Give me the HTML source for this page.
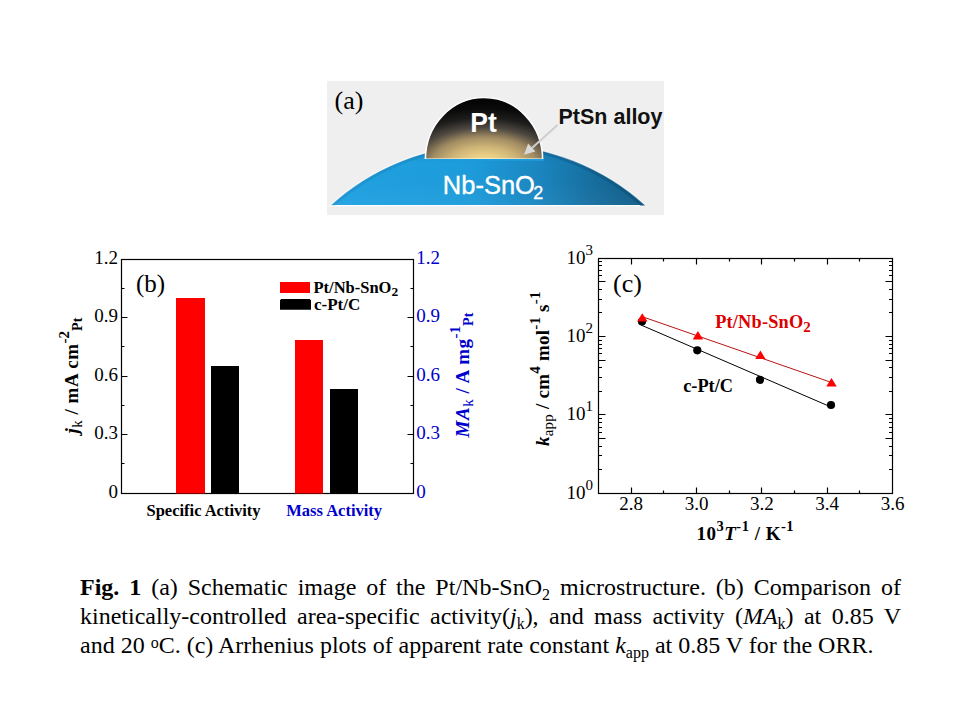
<!DOCTYPE html>
<html><head><meta charset="utf-8"><style>
html,body{margin:0;padding:0;background:#fff;width:960px;height:720px;overflow:hidden;position:relative}
#cap{position:absolute;left:80px;top:573px;width:821px;font-family:"Liberation Serif", serif;font-size:24px;color:#000}
#cap p{margin:0;height:29px;line-height:29px;white-space:nowrap}
#cap p.j{text-align:justify;text-align-last:justify;white-space:normal}
#cap sub,#cap sup{font-size:16px;line-height:0}
#cap sub{vertical-align:-5px}
#cap sup{vertical-align:5.5px}
</style></head><body>
<svg width="960" height="560" viewBox="0 0 960 560" style="position:absolute;left:0;top:0"><defs><radialGradient id="ptg" cx="0" cy="0" r="1" gradientUnits="userSpaceOnUse" gradientTransform="translate(484 166) scale(118 64)"><stop offset="0" stop-color="#f8e49a"/><stop offset="0.15" stop-color="#ecd286"/><stop offset="0.3" stop-color="#cfb577"/><stop offset="0.45" stop-color="#a28c62"/><stop offset="0.6" stop-color="#4e4840"/><stop offset="0.75" stop-color="#1e1d1c"/><stop offset="0.9" stop-color="#0a0a0a"/><stop offset="1" stop-color="#050505"/></radialGradient><linearGradient id="blg" x1="329" y1="0" x2="646" y2="0" gradientUnits="userSpaceOnUse"><stop offset="0" stop-color="#20a2e2"/><stop offset="0.45" stop-color="#1d9cdb"/><stop offset="0.66" stop-color="#1a86c0"/><stop offset="0.85" stop-color="#156c9c"/><stop offset="1" stop-color="#115a85"/></linearGradient><linearGradient id="blv" x1="0" y1="145" x2="0" y2="206" gradientUnits="userSpaceOnUse"><stop offset="0" stop-color="#000" stop-opacity="0.10"/><stop offset="0.3" stop-color="#000" stop-opacity="0"/><stop offset="1" stop-color="#fff" stop-opacity="0.04"/></linearGradient><linearGradient id="rim" x1="329" y1="0" x2="646" y2="0" gradientUnits="userSpaceOnUse"><stop offset="0" stop-color="#0d5f90" stop-opacity="0.15"/><stop offset="0.5" stop-color="#0d5f90" stop-opacity="0.25"/><stop offset="1" stop-color="#0a4f7a" stop-opacity="0.7"/></linearGradient></defs><rect x="327" y="81" width="337" height="134" fill="#efefef"/><path d="M329.7 205.7 A 234.2 234.2 0 0 1 645.6 205.7 Z" fill="url(#blg)" stroke="#fff" stroke-width="1.2"/><path d="M329.7 205.7 A 234.2 234.2 0 0 1 645.6 205.7 Z" fill="url(#blv)"/><clipPath id="domec"><path d="M329.7 205.7 A 234.2 234.2 0 0 1 645.6 205.7 Z"/></clipPath><path d="M329.7 205.7 A 234.2 234.2 0 0 1 645.6 205.7" fill="none" stroke="url(#rim)" stroke-width="7" clip-path="url(#domec)"/><path d="M425.4 159.3 A 58.6 61.8 0 0 1 542.6 159.3 Z" fill="url(#ptg)" stroke="#fcfcfc" stroke-width="1.6"/><rect x="424" y="159" width="120" height="1.8" fill="#1d9cdb"/><line x1="557.5" y1="125" x2="532" y2="148" stroke="#cfcfcf" stroke-width="2"/><path d="M524 154.7 L528.1 143.6 L535.4 151.5 Z" fill="#d8d8d8"/><text x="334.5" y="108.8" font-family='"Liberation Serif", serif' font-size="26">(a)</text><text x="470.3" y="131.8" font-family='"Liberation Sans", sans-serif' font-size="28" font-weight="bold" fill="#fff" textLength="26.5" lengthAdjust="spacingAndGlyphs">Pt</text><text x="558.5" y="124.2" font-family='"Liberation Sans", sans-serif' font-size="21.5" font-weight="bold" fill="#111" stroke="#fff" stroke-width="0" >PtSn alloy</text><text x="442.8" y="194.2" font-family='"Liberation Sans", sans-serif' font-size="25.5" fill="#fff" stroke="#fff" stroke-width="0.35">Nb-SnO<tspan font-size="18" dy="4.8" dx="-1.6">2</tspan></text><rect x="121.5" y="259.5" width="292.0" height="234.0" fill="none" stroke="#000" stroke-width="1.2"/><rect x="176" y="298" width="29" height="195.5" fill="#ff0000"/><rect x="211" y="366" width="28" height="127.5" fill="#000"/><rect x="295" y="340" width="28" height="153.5" fill="#ff0000"/><rect x="330" y="389" width="28" height="104.5" fill="#000"/><path d="M121.5 493.50h6M413.5 493.50h-6M121.5 463.50h3M413.5 463.50h-3M121.5 434.50h6M413.5 434.50h-6M121.5 405.50h3M413.5 405.50h-3M121.5 376.50h6M413.5 376.50h-6M121.5 346.50h3M413.5 346.50h-3M121.5 317.50h6M413.5 317.50h-6M121.5 288.50h3M413.5 288.50h-3M121.5 259.50h6M413.5 259.50h-6" stroke="#000" stroke-width="1.2" fill="none"/><text x="118" y="497.6" text-anchor="end" font-family='"Liberation Serif", serif' font-size="19">0</text><text x="416.2" y="497.6" font-family='"Liberation Serif", serif' font-size="19" fill="#0000cc">0</text><text x="118" y="439.1" text-anchor="end" font-family='"Liberation Serif", serif' font-size="19">0.3</text><text x="416.2" y="439.1" font-family='"Liberation Serif", serif' font-size="19" fill="#0000cc">0.3</text><text x="118" y="380.6" text-anchor="end" font-family='"Liberation Serif", serif' font-size="19">0.6</text><text x="416.2" y="380.6" font-family='"Liberation Serif", serif' font-size="19" fill="#0000cc">0.6</text><text x="118" y="322.1" text-anchor="end" font-family='"Liberation Serif", serif' font-size="19">0.9</text><text x="416.2" y="322.1" font-family='"Liberation Serif", serif' font-size="19" fill="#0000cc">0.9</text><text x="118" y="263.6" text-anchor="end" font-family='"Liberation Serif", serif' font-size="19">1.2</text><text x="416.2" y="263.6" font-family='"Liberation Serif", serif' font-size="19" fill="#0000cc">1.2</text><text x="136" y="292" font-family='"Liberation Serif", serif' font-size="25">(b)</text><rect x="280" y="282" width="30" height="11" fill="#ff0000"/><path d="M280 300.2 L281.2 299 L309.6 299 L311 300.2 L311 309.8 L280 309.8 Z" fill="#000"/><text x="313.5" y="292.8" font-family='"Liberation Serif", serif' font-size="16.5" font-weight="bold">Pt/Nb-SnO<tspan font-size="13.5" dy="3">2</tspan></text><text x="314" y="310" font-family='"Liberation Serif", serif' font-size="17" font-weight="bold">c-Pt/C</text><text x="146.5" y="515.6" font-family='"Liberation Serif", serif' font-size="16.5" font-weight="bold">Specific Activity</text><text x="286.3" y="515.6" font-family='"Liberation Serif", serif' font-size="16.5" font-weight="bold" fill="#0000cc">Mass Activity</text><text transform="translate(78,433.5) rotate(-90)" font-family='"Liberation Serif", serif' font-size="19" font-weight="bold" letter-spacing="0.5"><tspan font-style="italic">j</tspan><tspan font-size="15" dy="4" font-weight="normal">k</tspan><tspan dy="-4"> / mA cm</tspan><tspan font-size="15" dy="-9" letter-spacing="0">-2</tspan><tspan font-size="14" dy="12.5" letter-spacing="0">Pt</tspan></text><text transform="translate(469.2,437.5) rotate(-90)" font-family='"Liberation Serif", serif' font-size="19" font-weight="bold" fill="#0000cc" letter-spacing="0.55"><tspan font-style="italic">MA</tspan><tspan font-size="15" dy="4" font-weight="normal">k</tspan><tspan dy="-4"> / A mg</tspan><tspan font-size="15" dy="-9" letter-spacing="0">-1</tspan><tspan font-size="14" dy="12.5" letter-spacing="0">Pt</tspan></text><rect x="598.5" y="258.5" width="294.0" height="235.0" fill="none" stroke="#000" stroke-width="1.2"/><path d="M598.5 469.50h3.5M892.5 469.50h-3.5M598.5 455.50h3.5M892.5 455.50h-3.5M598.5 446.50h3.5M892.5 446.50h-3.5M598.5 438.50h7M892.5 438.50h-7M598.5 432.50h3.5M892.5 432.50h-3.5M598.5 427.50h3.5M892.5 427.50h-3.5M598.5 422.50h3.5M892.5 422.50h-3.5M598.5 418.50h3.5M892.5 418.50h-3.5M598.5 414.50h7M892.5 414.50h-7M598.5 391.50h3.5M892.5 391.50h-3.5M598.5 377.50h3.5M892.5 377.50h-3.5M598.5 367.50h3.5M892.5 367.50h-3.5M598.5 360.50h7M892.5 360.50h-7M598.5 353.50h3.5M892.5 353.50h-3.5M598.5 348.50h3.5M892.5 348.50h-3.5M598.5 344.50h3.5M892.5 344.50h-3.5M598.5 340.50h3.5M892.5 340.50h-3.5M598.5 336.50h7M892.5 336.50h-7M598.5 312.50h3.5M892.5 312.50h-3.5M598.5 299.50h3.5M892.5 299.50h-3.5M598.5 289.50h3.5M892.5 289.50h-3.5M598.5 281.50h7M892.5 281.50h-7M598.5 275.50h3.5M892.5 275.50h-3.5M598.5 270.50h3.5M892.5 270.50h-3.5M598.5 265.50h3.5M892.5 265.50h-3.5M598.5 261.50h3.5M892.5 261.50h-3.5M631.50 493.5v-6M631.50 258.5v6M663.50 493.5v-3M663.50 258.5v3M696.50 493.5v-6M696.50 258.5v6M729.50 493.5v-3M729.50 258.5v3M761.50 493.5v-6M761.50 258.5v6M794.50 493.5v-3M794.50 258.5v3M827.50 493.5v-6M827.50 258.5v6M859.50 493.5v-3M859.50 258.5v3" stroke="#000" stroke-width="1.2" fill="none"/><text x="585.5" y="498.5" text-anchor="end" font-family='"Liberation Serif", serif' font-size="19">10</text><text x="585.6" y="489.5" font-family='"Liberation Serif", serif' font-size="15">0</text><text x="585.5" y="420.2" text-anchor="end" font-family='"Liberation Serif", serif' font-size="19">10</text><text x="585.6" y="411.2" font-family='"Liberation Serif", serif' font-size="15">1</text><text x="585.5" y="341.8" text-anchor="end" font-family='"Liberation Serif", serif' font-size="19">10</text><text x="585.6" y="332.8" font-family='"Liberation Serif", serif' font-size="15">2</text><text x="585.5" y="263.5" text-anchor="end" font-family='"Liberation Serif", serif' font-size="19">10</text><text x="585.6" y="254.5" font-family='"Liberation Serif", serif' font-size="15">3</text><text x="631.2" y="509.6" text-anchor="middle" font-family='"Liberation Serif", serif' font-size="19">2.8</text><text x="696.5" y="509.6" text-anchor="middle" font-family='"Liberation Serif", serif' font-size="19">3.0</text><text x="761.8" y="509.6" text-anchor="middle" font-family='"Liberation Serif", serif' font-size="19">3.2</text><text x="827.2" y="509.6" text-anchor="middle" font-family='"Liberation Serif", serif' font-size="19">3.4</text><text x="892.5" y="509.6" text-anchor="middle" font-family='"Liberation Serif", serif' font-size="19">3.6</text><line x1="642" y1="316.6" x2="831" y2="382.3" stroke="#b81414" stroke-width="1"/><line x1="641" y1="325" x2="831" y2="407" stroke="#000" stroke-width="1"/><circle cx="642" cy="321.5" r="4.1" fill="#000"/><circle cx="697.3" cy="350.3" r="4.1" fill="#000"/><circle cx="760" cy="379.8" r="4.1" fill="#000"/><circle cx="831" cy="405" r="4.1" fill="#000"/><path d="M642.3 313.2l5.2 8.4h-10.4z" fill="#ff0000"/><path d="M697.9 331l5.2 8.4h-10.4z" fill="#ff0000"/><path d="M760.4 350.6l5.2 8.4h-10.4z" fill="#ff0000"/><path d="M831.5 378.1l5.2 8.4h-10.4z" fill="#ff0000"/><text x="613" y="291.6" font-family='"Liberation Serif", serif' font-size="26">(c)</text><text x="715.2" y="327.7" font-family='"Liberation Serif", serif' font-size="18.3" font-weight="bold" fill="#dd0000" letter-spacing="0.2">Pt/Nb-SnO<tspan font-size="15" dy="4">2</tspan></text><text x="683.2" y="391.8" font-family='"Liberation Serif", serif' font-size="18.3" font-weight="bold">c-Pt/C</text><text x="696.5" y="539.5" font-family='"Liberation Serif", serif' font-size="19" font-weight="bold" letter-spacing="0.5">10<tspan font-size="14.5" dy="-9">3</tspan><tspan font-style="italic" dy="9">T</tspan><tspan font-size="14.5" dy="-9">-1</tspan><tspan dy="9"> / K</tspan><tspan font-size="14.5" dy="-9">-1</tspan></text><text transform="translate(548.8,446) rotate(-90)" font-family='"Liberation Serif", serif' font-size="19" font-weight="bold" letter-spacing="0.22"><tspan font-style="italic">k</tspan><tspan font-size="15" dy="4" font-weight="normal">app</tspan><tspan dy="-4"> / cm</tspan><tspan font-size="15" dy="-9">4</tspan><tspan dy="9"> mol</tspan><tspan font-size="15" dy="-9">-1</tspan><tspan dy="9"> s</tspan><tspan font-size="15" dy="-9">-1</tspan></text></svg>
<div id="cap"><p class="l1 j"><b>Fig. 1</b> (a) Schematic image of the Pt/Nb-SnO<sub>2</sub> microstructure. (b) Comparison of</p>
<p class="l2 j">kinetically-controlled area-specific activity(<i>j</i><sub>k</sub>), and mass activity (<i>MA</i><sub>k</sub>) at 0.85 V</p>
<p class="l3">and 20 <sup>o</sup>C. (c) Arrhenius plots of apparent rate constant <i>k</i><sub>app</sub> at 0.85 V for the ORR.</p></div>
</body></html>
